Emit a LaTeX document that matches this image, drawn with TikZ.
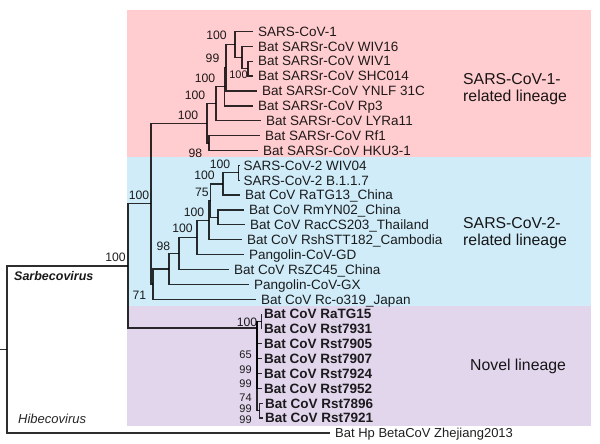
\documentclass[tikz,border=0pt]{standalone}
\usepackage{fontspec}
\setmainfont{Liberation Sans}
\definecolor{pinkbg}{RGB}{255,205,208}
\definecolor{bluebg}{RGB}{209,236,249}
\definecolor{purpbg}{RGB}{226,214,236}
\begin{document}
\begin{tikzpicture}[x=1pt,y=-1pt,
  br/.style={line width=1.35pt, draw=black, draw opacity=0.82},
  leaf/.style={anchor=west, inner xsep=5pt, inner ysep=0pt, text height=9.6pt, text depth=0pt, font=\fontsize{13.5}{14}\selectfont, text opacity=0.88},
  novleaf/.style={leaf, inner xsep=2.5pt, font=\bfseries\fontsize{13.5}{14}\selectfont},
  bs/.style={inner sep=0pt, text height=8.6pt, text depth=0pt, font=\fontsize{12.2}{12}\selectfont, text opacity=0.88},
  bss/.style={bs, text height=7.6pt, font=\fontsize{11}{11}\selectfont},
  lin/.style={anchor=west, inner sep=0pt, align=left, font=\fontsize{15.8}{17}\selectfont, text opacity=0.9},
]
\useasboundingbox (0,0) rectangle (600,444);
\fill[white] (0,0) rectangle (600,444);
\fill[pinkbg] (127,10) rectangle (591,157);
\fill[bluebg] (127,157) rectangle (591,306);
\fill[purpbg] (127,306) rectangle (591,426);

% leaves SARS-CoV-1 lineage
\node[leaf] (L0) at (253,31.5) {SARS-CoV-1};
\node[leaf] (L1) at (253,46.4) {Bat SARSr-CoV WIV16};
\node[leaf] (L2) at (253,61.2) {Bat SARSr-CoV WIV1};
\node[leaf] (L3) at (253,76.1) {Bat SARSr-CoV SHC014};
\node[leaf] (L4) at (257,91.0) {Bat SARSr-CoV YNLF 31C};
\node[leaf] (L5) at (253,105.9) {Bat SARSr-CoV Rp3};
\node[leaf] (L6) at (261,120.7) {Bat SARSr-CoV LYRa11};
\node[leaf] (L7) at (260,135.6) {Bat SARSr-CoV Rf1};
\node[leaf] (L8) at (258,150.5) {Bat SARSr-CoV HKU3-1};
% leaves SARS-CoV-2 lineage
\node[leaf, inner xsep=4pt] (M0) at (239.5,165.3) {SARS-CoV-2 WIV04};
\node[leaf, inner xsep=4pt] (M1) at (239.5,180.2) {SARS-CoV-2 B.1.1.7};
\node[leaf] (M2) at (240,195.1) {Bat CoV RaTG13\_China};
\node[leaf] (M3) at (244,209.9) {Bat CoV RmYN02\_China};
\node[leaf] (M4) at (245,224.8) {Bat CoV RacCS203\_Thailand};
\node[leaf] (M5) at (242,239.7) {Bat CoV RshSTT182\_Cambodia};
\node[leaf] (M6) at (244,254.6) {Pangolin-CoV-GD};
\node[leaf] (M7) at (229,269.4) {Bat CoV RsZC45\_China};
\node[leaf] (M8) at (249,284.3) {Pangolin-CoV-GX};
\node[leaf] (M9) at (256,299.2) {Bat CoV Rc-o319\_Japan};
% novel lineage
\node[novleaf] (N0) at (261.5,314.0) {Bat CoV RaTG15};
\node[novleaf] (N1) at (261.5,328.9) {Bat CoV Rst7931};
\node[novleaf] (N2) at (261.5,343.8) {Bat CoV Rst7905};
\node[novleaf] (N3) at (261.5,358.6) {Bat CoV Rst7907};
\node[novleaf] (N4) at (261.5,373.5) {Bat CoV Rst7924};
\node[novleaf] (N5) at (261.5,388.4) {Bat CoV Rst7952};
\node[novleaf] (N6) at (262.5,403.3) {Bat CoV Rst7896};
\node[novleaf] (N7) at (262.5,418.1) {Bat CoV Rst7921};
% outgroup
\node[leaf, font=\fontsize{13}{14}\selectfont] (Z) at (330,433) {Bat Hp BetaCoV Zhejiang2013};

% internal nodes
\coordinate (w1) at (248,68.65);
\coordinate (w16) at (242,57.5);
\coordinate (s1) at (235,44.5);
\coordinate (yn) at (226,67.75);
\coordinate (rp) at (224.5,86.8);
\coordinate (ly) at (216,103.8);
\coordinate (rf) at (209,143);
\coordinate (c1) at (207,123.4);
\coordinate (wv) at (238.5,172.75);
\coordinate (rt) at (223,183.9);
\coordinate (rm) at (218,217.35);
\coordinate (a75) at (210.5,200.6);
\coordinate (b) at (209,220.2);
\coordinate (c) at (197,237.4);
\coordinate (d) at (179,253.4);
\coordinate (e) at (169,268.9);
\coordinate (f) at (153,284);
\coordinate (g) at (151,203.7);
\coordinate (nv) at (257,328);
\coordinate (nt) at (257,321.45);
\coordinate (n1) at (261.5,321.45);
\coordinate (nb) at (257,410.7);
\coordinate (nl) at (259.5,410.7);
\coordinate (h) at (128,265.85);
\coordinate (root) at (7,349.4);
\coordinate (stub) at (0,349.4);

% branches
\draw[br] (w1) |- (L2.west) (w1) |- (L3.west);
\draw[br] (w16) |- (L1.west) (w16) |- (w1);
\draw[br] (s1) |- (L0.west) (s1) |- (w16);
\draw[br] (yn) |- (s1) (yn) |- (L4.west);
\draw[br] (rp) |- (yn) (rp) |- (L5.west);
\draw[br] (ly) |- (rp) (ly) |- (L6.west);
\draw[br] (rf) |- (L7.west) (rf) |- (L8.west);
\draw[br] (c1) |- (ly) (c1) |- (rf);
\draw[br] (g) |- (c1) (g) |- (f);
\draw[br] (f) |- (e) (f) |- (M9.west);
\draw[br] (e) |- (d) (e) |- (M8.west);
\draw[br] (d) |- (c) (d) |- (M7.west);
\draw[br] (c) |- (b) (c) |- (M6.west);
\draw[br] (b) |- (a75) (b) |- (M5.west);
\draw[br] (a75) |- (rt) (a75) |- (rm);
\draw[br] (rm) |- (M3.west) (rm) |- (M4.west);
\draw[br] (rt) |- (wv) (rt) |- (M2.west);
\draw[br] (wv) |- (M0.west) (wv) |- (M1.west);
\draw[br] (h) |- (g) (h) |- (nv);
\draw[br] (nt) -- (nb);
\draw[br] (nt) -- (n1);
\draw[br] (n1) |- (N0.west) (n1) |- (N1.west);
\draw[br] (nt) |- (N2.west) (nt) |- (N3.west) (nt) |- (N4.west) (nt) |- (N5.west);
\draw[br] (nb) -- (nl);
\draw[br] (nl) |- (N6.west) (nl) |- (N7.west);
\draw[br] (root) |- (h) (root) |- (Z.west);
\draw[br] (stub) -- (root);

% support values
\node[bs] (v1) at (216.5,35) {100};
\node[bs] (v2) at (212.5,58) {99};
\node[bs] (v3) at (205,78) {100};
\node[bs] (v4) at (195,95) {100};
\node[bs] (v5) at (188,115) {100};
\node[bss] (v6) at (238.5,75) {100};
\node[bs] (v7) at (195.5,153) {98};
\node[bs] (v8) at (220,164) {100};
\node[bs] (v9) at (204.5,175) {100};
\node[bs] (v10) at (202,192) {75};
\node[bs] (v11) at (194,212) {100};
\node[bs] (v12) at (182.5,228) {100};
\node[bs] (v13) at (163.5,246) {98};
\node[bs] (v14) at (139.5,295) {71};
\node[bs] (v15) at (139,195) {100};
\node[bs] (v16) at (115.5,257) {100};
\node[bs] (v17) at (247,322) {100};
\node[bss] (v18) at (245.5,355) {65};
\node[bss] (v19) at (245.5,369.5) {99};
\node[bss] (v20) at (245.5,384) {99};
\node[bss] (v21) at (245.5,398) {74};
\node[bss] (v22) at (245.5,409) {99};
\node[bss] (v23) at (245.5,419.5) {99};

% genus labels
\node[anchor=west, inner sep=0pt, text height=9pt, text depth=0pt, font=\bfseries\itshape\fontsize{12.5}{13}\selectfont, text opacity=0.9] (sarb) at (14,276) {Sarbecovirus};
\node[anchor=west, inner sep=0pt, text height=9.3pt, text depth=0pt, font=\itshape\fontsize{13}{14}\selectfont, text opacity=0.85] (hib) at (18,419) {Hibecovirus};

% lineage labels
\node[lin] (g1) at (463,89.5) {SARS-CoV-1-\\related lineage};
\node[lin] (g2) at (463,233.5) {SARS-CoV-2-\\related lineage};
\node[lin] (g3) at (470,366) {Novel lineage};
\end{tikzpicture}
\end{document}
